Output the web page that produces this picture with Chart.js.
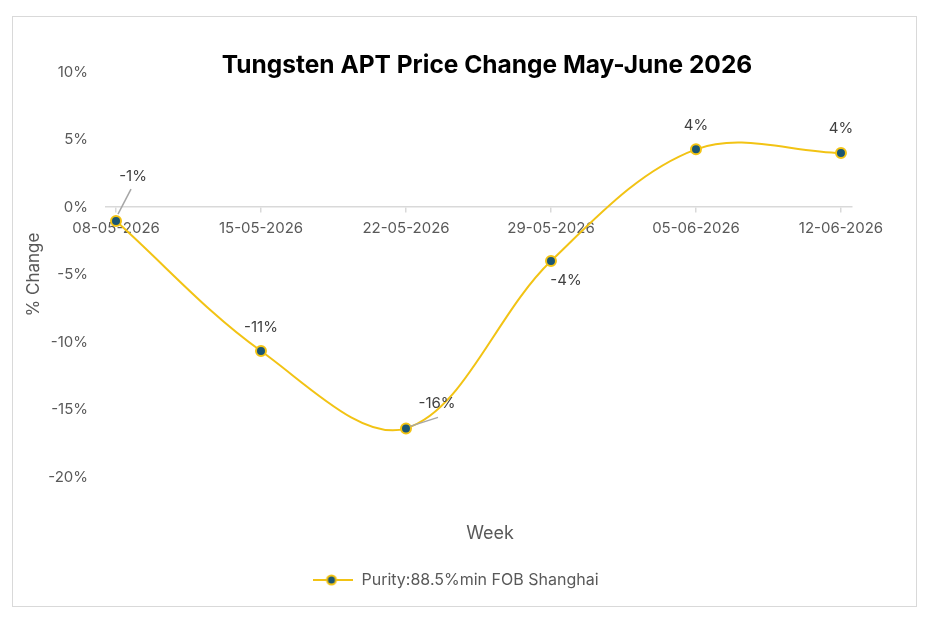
<!DOCTYPE html>
<html>
<head>
<meta charset="utf-8">
<script src="https://cdn.jsdelivr.net/npm/chart.js@4.4.1/dist/chart.umd.min.js"></script>
<style>
  html, body { margin: 0; padding: 0; background: #fff; }
  canvas { display: block; }
</style>
</head>
<body>
<canvas id="price-chart" width="930" height="624"></canvas>
<script>
const weeks = ['08-05-2026', '15-05-2026', '22-05-2026', '29-05-2026', '05-06-2026', '12-06-2026'];
const pctChange = [-1.04, -10.67, -16.4, -4.0, 4.27, 4.0];
const yTicks = [-20, -15, -10, -5, 0, 5, 10];
const seriesName = 'Purity:88.5%min FOB Shanghai';

const lineColor = '#F2C314';
const markerColor = '#1B5673';
const textGrey = '#595959';
const fontFamily = 'Inter, "Open Sans", sans-serif';

// where each data label sits relative to its point, and which ones get a leader line
const labelOffsets = [[17, -45], [0, -24], [31, -25], [15, 19], [0, -24], [0, -25]];
const leaderLines = { 0: [[2, -7], [15, -32]], 2: [[4, -2], [32, -11]] };

// legend icon: short line with a marker in the middle
const legendIcon = document.createElement('canvas');
legendIcon.width = 40;
legendIcon.height = 14;
(function () {
  const c = legendIcon.getContext('2d');
  c.strokeStyle = lineColor;
  c.lineWidth = 2;
  c.beginPath();
  c.moveTo(0, 7);
  c.lineTo(40, 7);
  c.stroke();
  c.beginPath();
  c.arc(18, 7, 4.5, 0, Math.PI * 2);
  c.fillStyle = markerColor;
  c.fill();
  c.lineWidth = 2;
  c.stroke();
})();

const frame = {
  id: 'frame',
  beforeDraw(chart) {
    const ctx = chart.ctx;
    ctx.save();
    ctx.fillStyle = '#fff';
    ctx.fillRect(0, 0, chart.width, chart.height);
    ctx.strokeStyle = '#d9d9d9';
    ctx.lineWidth = 1;
    ctx.strokeRect(12.5, 16.5, 904, 590);
    ctx.restore();
  }
};

// nudge title / axis caption / legend sideways like the excel original
const nudge = {
  id: 'nudge',
  afterLayout(chart) {
    const move = (box, dx) => { if (box) { box.left += dx; box.right += dx; } };
    move(chart.titleBlock, 8);
    move(chart.boxes.find(b => b.options && b.options.text === 'Week'), 11);
    move(chart.legend, -23);
  }
};

const dataLabels = {
  id: 'dataLabels',
  afterDatasetsDraw(chart) {
    const ctx = chart.ctx;
    const meta = chart.getDatasetMeta(0);
    ctx.save();
    meta.data.forEach((pt, i) => {
      const lead = leaderLines[i];
      if (lead) {
        ctx.strokeStyle = '#a6a6a6';
        ctx.lineWidth = 1.5;
        ctx.beginPath();
        ctx.moveTo(pt.x + lead[0][0], pt.y + lead[0][1]);
        ctx.lineTo(pt.x + lead[1][0], pt.y + lead[1][1]);
        ctx.stroke();
      }
      const off = labelOffsets[i];
      ctx.fillStyle = '#404040';
      ctx.font = '15px ' + fontFamily;
      ctx.textAlign = 'center';
      ctx.textBaseline = 'middle';
      ctx.fillText(Math.round(pctChange[i]) + '%', pt.x + off[0], pt.y + off[1]);
    });
    ctx.restore();
  }
};

new Chart(document.getElementById('price-chart').getContext('2d'), {
  type: 'line',
  data: {
    datasets: [
      {
        label: seriesName,
        data: weeks.map((w, i) => ({ x: i, y: pctChange[i] })),
        borderColor: lineColor,
        borderWidth: 2,
        tension: 0.35,
        pointRadius: 5,
        pointHoverRadius: 5,
        pointBackgroundColor: markerColor,
        pointBorderColor: lineColor,
        pointBorderWidth: 2,
      },
    ],
  },
  options: {
    responsive: false,
    animation: false,
    layout: {
      padding: { left: 20, right: 78, top: 0, bottom: 26 },
    },
    scales: {
      x: {
        type: 'linear',
        position: { y: 0 },
        min: -0.069,
        max: 5.076,
        grid: {
          drawOnChartArea: false,
          drawTicks: true,
          tickLength: 5,
          color: '#d9d9d9',
          lineWidth: 1.5,
        },
        border: { color: '#d9d9d9', width: 1.5 },
        ticks: {
          stepSize: 1,
          includeBounds: false,
          color: textGrey,
          font: { family: fontFamily, size: 15 },
          padding: 7,
          maxRotation: 0,
          autoSkip: false,
          callback: v => weeks[v],
        },
      },
      y: {
        min: yTicks[0],
        max: yTicks[yTicks.length - 1],
        afterFit(scale) {
          scale.width = 86;
        },
        afterBuildTicks(scale) {
          scale.ticks = yTicks.map(v => ({ value: v }));
        },
        grid: { display: false, drawTicks: false },
        border: { display: false },
        ticks: {
          color: textGrey,
          font: { family: fontFamily, size: 15 },
          padding: 18,
          callback: v => v + '%',
        },
        title: {
          display: true,
          text: '% Change',
          color: textGrey,
          font: { family: fontFamily, size: 17 },
          padding: { top: 4, bottom: 0 },
        },
      },
    },
    plugins: {
      title: {
        display: true,
        text: 'Tungsten APT Price Change May-June 2026',
        color: '#000',
        fullSize: false,
        font: { family: fontFamily, size: 24.5, weight: 'bold', lineHeight: 0.5 },
        padding: { top: 59.75, bottom: 0 },
      },
      subtitle: {
        display: true,
        position: 'bottom',
        weight: 500,
        fullSize: false,
        text: 'Week',
        color: textGrey,
        font: { family: fontFamily, size: 18, lineHeight: 1.2 },
        padding: { top: 45.5, bottom: 17.9 },
      },
      legend: {
        position: 'bottom',
        fullSize: false,
        labels: {
          usePointStyle: true,
          pointStyle: legendIcon,
          pointStyleWidth: 40,
          color: textGrey,
          font: { family: fontFamily, size: 16 },
          padding: 10,
        },
      },
      tooltip: { enabled: false },
    },
  },
  plugins: [frame, nudge, dataLabels],
});
</script>
</body>
</html>
